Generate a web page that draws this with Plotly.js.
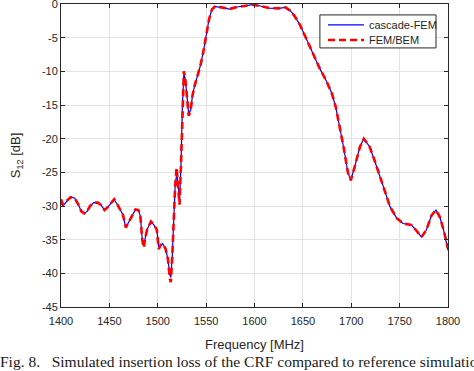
<!DOCTYPE html>
<html>
<head>
<meta charset="utf-8">
<script src="https://cdn.plot.ly/plotly-3.0.1.min.js"></script>
<style>html,body{margin:0;padding:0;background:#fff;}#chart{width:474px;height:371px;}</style>
</head>
<body>
<div id="chart"></div>
<script>
var freqMHz = [1400,1402,1406,1410,1414,1418,1421,1424,1427,1430,1434,1438,1441,1445,1448,1452,1455,1458,1461,1464,1467,1470,1474,1477,1480,1482,1484,1485.5,1487,1489,1493,1496,1499,1501,1503,1505,1508,1510.5,1512.5,1513.5,1515,1516.5,1518,1519.5,1521,1522.5,1524,1525.5,1527,1528.5,1530,1532,1534,1536,1538,1541,1544,1547,1550,1553,1556,1559,1566,1574,1582,1590,1598,1606,1615,1625,1632,1637,1641.5,1647,1654,1661,1667.5,1674.5,1680,1684,1688,1692,1696.5,1699.5,1703.5,1709,1713,1719,1724,1729,1735,1740,1747,1753.5,1762,1767,1772.5,1777.5,1783,1787.5,1791.5,1795.5,1800];
var cascadeFEM = [-29.6,-30.0,-29.3,-28.7,-28.8,-29.8,-30.8,-31.1,-30.8,-30.0,-29.5,-29.5,-29.8,-30.6,-30.2,-29.5,-29.1,-29.7,-30.4,-31.3,-33.2,-32.4,-31.2,-30.5,-30.6,-31.5,-35.0,-35.8,-34.8,-33.5,-32.3,-32.8,-33.5,-36.0,-35.8,-35.6,-36.3,-37.9,-40.2,-40.6,-37.5,-32.0,-27.0,-25.3,-26.5,-29.5,-24.0,-15.0,-10.3,-11.2,-13.5,-16.3,-15.8,-13.5,-12.2,-10.7,-9.2,-7.2,-4.6,-2.3,-0.8,-0.4,-0.5,-0.75,-0.45,-0.25,-0.1,-0.3,-0.6,-0.65,-0.5,-1.0,-1.8,-3.1,-5.4,-7.6,-9.6,-11.5,-13.3,-15.3,-18.2,-21.2,-25.0,-26.2,-24.2,-21.2,-20.0,-21.2,-23.2,-25.2,-27.9,-30.1,-31.8,-32.6,-32.8,-33.6,-34.6,-33.6,-31.4,-30.6,-31.6,-33.6,-36.6];
var femBEM = [-29.0,-29.8,-29.2,-28.7,-28.8,-29.8,-30.8,-31.1,-30.8,-30.0,-29.5,-29.5,-29.8,-30.6,-30.2,-29.5,-29.0,-29.7,-30.4,-31.3,-33.2,-32.4,-31.2,-30.5,-30.6,-31.5,-35.0,-36.2,-34.8,-33.5,-32.3,-32.8,-33.5,-36.4,-35.8,-35.6,-36.3,-37.9,-40.8,-41.3,-37.5,-32.0,-27.0,-24.3,-26.5,-29.8,-24.0,-15.0,-10.0,-11.2,-13.5,-16.6,-15.8,-13.5,-12.2,-10.7,-9.2,-7.2,-4.6,-2.3,-0.8,-0.4,-0.5,-0.75,-0.45,-0.25,-0.1,-0.3,-0.6,-0.65,-0.5,-1.0,-1.8,-3.1,-5.4,-7.6,-9.6,-11.5,-13.3,-15.3,-18.2,-21.2,-25.0,-26.2,-24.2,-21.2,-20.0,-21.2,-23.2,-25.2,-27.9,-30.1,-31.8,-32.6,-32.8,-33.6,-34.6,-33.6,-31.4,-30.6,-31.6,-33.6,-36.3];
var seriesNames = ["cascade-FEM", "FEM/BEM"];
var xTicks = [1400,1450,1500,1550,1600,1650,1700,1750,1800];
var yTicks = [0,-5,-10,-15,-20,-25,-30,-35,-40,-45];

var sans = "Liberation Sans, Arial, sans-serif";
var axisFont = {family: sans, size: 11, color: "#262626"};
var seriesStyles = [
  {color: "#0000ff", width: 1.2, dash: "solid"},
  {color: "#ff0000", width: 2.6, dash: "7px,4px"}
];
var traces = [
  {x: freqMHz, y: cascadeFEM, name: seriesNames[0], type: "scatter", mode: "lines", line: seriesStyles[0]},
  {x: freqMHz, y: femBEM, name: seriesNames[1], type: "scatter", mode: "lines", line: seriesStyles[1]}
];

// legend box (drawn as shapes + text to match the compact original)
var legX0 = 0.669, legX1 = 0.969, legY0 = 0.855, legY1 = 0.964;
var legRows = [0.931, 0.881];
var shapes = [{type: "rect", xref: "paper", yref: "paper", x0: legX0, x1: legX1, y0: legY0, y1: legY1,
  line: {color: "#262626", width: 1}, fillcolor: "#ffffff", layer: "above"}];
var annotations = [];
seriesNames.forEach(function (nm, i) {
  shapes.push({type: "line", xref: "paper", yref: "paper", x0: 0.690, x1: 0.783, y0: legRows[i], y1: legRows[i],
    line: seriesStyles[i], layer: "above"});
  annotations.push({text: nm, xref: "paper", yref: "paper", x: 0.790, y: legRows[i], xanchor: "left", yanchor: "middle",
    showarrow: false, font: {family: sans, size: 11, color: "#262626"}});
});
annotations.push({
  text: "Fig. 8.&nbsp;&nbsp;&nbsp;Simulated insertion loss of the CRF compared to reference simulation",
  xref: "paper", yref: "paper", x: -0.1628, y: -0.18, xanchor: "left", yanchor: "middle",
  showarrow: false, font: {family: "Liberation Serif, Times New Roman, serif", size: 15.5, color: "#1a1a1a"}
});

var layout = {
  width: 474, height: 371,
  margin: {l: 61, r: 26, t: 4, b: 64, pad: 0},
  paper_bgcolor: "#fff", plot_bgcolor: "#fff",
  showlegend: false,
  font: axisFont,
  xaxis: {range: [1400, 1800], tickvals: xTicks, ticktext: xTicks.map(String),
    showgrid: true, gridcolor: "#e3e3e3", gridwidth: 1, zeroline: false,
    showline: true, linecolor: "#262626", linewidth: 1, mirror: "ticks",
    ticks: "inside", ticklen: 4, tickcolor: "#262626", tickfont: axisFont,
    ticklabelstandoff: 4, ticklabeloverflow: "allow", automargin: "bottom",
    title: {text: "Frequency [MHz]", font: {family: sans, size: 13, color: "#262626"}, standoff: 13}},
  yaxis: {range: [-45, 0], tickvals: yTicks, ticktext: yTicks.map(String),
    showgrid: true, gridcolor: "#e3e3e3", gridwidth: 1, zeroline: false,
    showline: true, linecolor: "#262626", linewidth: 1, mirror: "ticks",
    ticks: "inside", ticklen: 4, tickcolor: "#262626", tickfont: axisFont,
    ticklabeloverflow: "allow", automargin: "left",
    title: {text: "S<sub>12</sub> [dB]", font: {family: sans, size: 13, color: "#262626"}, standoff: 18}},
  shapes: shapes,
  annotations: annotations
};
Plotly.newPlot("chart", traces, layout, {displayModeBar: false, staticPlot: true});
</script>
</body>
</html>
